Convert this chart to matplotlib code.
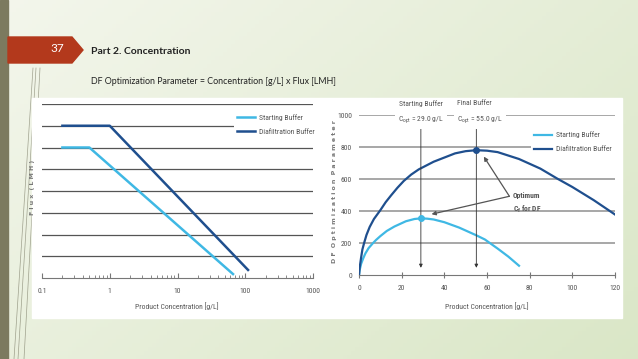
import numpy as np
import matplotlib.pyplot as plt
from matplotlib import font_manager
from matplotlib.patches import Polygon, Rectangle


def pick_font(names):
    avail = {f.name for f in font_manager.fontManager.ttflist}
    for n in names:
        if n in avail:
            return n
    return 'DejaVu Sans'


narrow = pick_font(['Liberation Sans Narrow', 'Roboto Condensed', 'Liberation Sans', 'DejaVu Sans'])
slide = pick_font(['Lato', 'Open Sans', 'DejaVu Sans'])

# left chart: flux vs concentration (log x)
flux_ticks = [0.1, 1, 10, 100, 1000]
flux_tick_labels = ['0.1', '1', '10', '100', '1000']
flux_grid = [1, 2, 3, 4, 5, 6, 7, 8]
flux_start_x = [0.2, 0.5, 66]
flux_start_y = [6, 6, 0.18]
flux_dia_x = [0.2, 1.0, 110]
flux_dia_y = [7, 7, 0.37]

# right chart: DF optimization parameter
df_ticks = [0, 20, 40, 60, 80, 100, 120]
df_yticks = [0, 200, 400, 600, 800, 1000]
df_start_x = [0, 0.3, 1, 2, 3, 4.5, 6.6, 8, 10, 13, 16.6, 22, 26, 29, 32, 35, 40,
              47, 55, 59, 65, 70, 75]
df_start_y = [0, 30, 70, 105, 135, 168, 200, 219, 243, 275, 303, 336, 350, 354, 352,
              347, 330, 296, 248, 222, 165, 115, 58]
df_dia_x = [0, 0.3, 1, 1.6, 2.4, 3.5, 5, 7, 10, 12.5, 15, 18, 21, 24.5, 28, 35, 45,
            50, 55, 60, 65, 75, 85, 93, 100, 110, 120]
df_dia_y = [0, 45, 110, 160, 200, 250, 300, 350, 405, 455, 497, 545, 588, 628, 660,
            708, 760, 774, 780, 777, 768, 725, 665, 602, 550, 468, 378]
peak_x = [29, 55]
peak_y = [354, 780]

light = '#3fb8e4'
dark = '#1f4f8e'
txt = '#555555'

fig = plt.figure(figsize=(6.38, 3.59), dpi=100)

# slide background
bg = fig.add_axes([0, 0, 1, 1])
bg.set_xlim(0, 638)
bg.set_ylim(359, 0)
bg.axis('off')
gx, gy = np.meshgrid(np.linspace(0, 1, 160), np.linspace(0, 1, 90))
t = np.clip(0.6 * gx + 0.4 * gy, 0, 1)[..., None]
c0 = np.array([0.955, 0.965, 0.925])
c1 = np.array([0.855, 0.905, 0.78])
bg.imshow(c0 * (1 - t) + c1 * t, extent=(0, 638, 359, 0), aspect='auto', zorder=0)
bg.add_patch(Rectangle((0, 0), 8, 359, color='#7c7a5f', zorder=1))
for x0, x1 in [(36, 18), (40, 24), (33, 14)]:
    bg.plot([x0, x1], [68, 359], color='#6b6b55', lw=0.5, alpha=0.6, zorder=1)
bg.add_patch(Polygon([(8, 37), (72, 37), (83, 50), (72, 63), (8, 63)],
                     color='#b3391c', zorder=2))
bg.text(57, 49, '37', color='white', fontsize=8.5, ha='center', va='center', family=slide)
bg.text(91, 51, 'Part 2. Concentration', fontsize=7.5, fontweight='bold',
        va='center', family=slide, color='#222')
bg.text(91, 81, 'DF Optimization Parameter = Concentration [g/L] x Flux [LMH]',
        fontsize=6.4, va='center', family=slide, color='#222')
bg.add_patch(Rectangle((32, 98), 590, 220, color='white', zorder=2))

# left chart
ax1 = fig.add_axes([42 / 638, 1 - 278 / 359, 271 / 638, 174 / 359])
ax1.set_facecolor('none')
ax1.set_xscale('log')
ax1.set_xlim(0.1, 1000)
ax1.set_ylim(0, 8)
for v in flux_grid:
    ax1.axhline(v, color='#555555', lw=0.9, zorder=1)
ax1.plot(flux_start_x, flux_start_y, color=light, lw=1.8, label='Starting Buffer', zorder=3)
ax1.plot(flux_dia_x, flux_dia_y, color=dark, lw=1.8, label='Diafiltration Buffer', zorder=3)
for s in ['top', 'right', 'left']:
    ax1.spines[s].set_visible(False)
ax1.spines['bottom'].set_color('#777777')
ax1.set_yticks([])
ax1.set_xticks(flux_ticks)
ax1.set_xticklabels(flux_tick_labels)
ax1.tick_params(axis='x', which='major', direction='in', length=3.5, color='#777777',
                labelsize=5.5, labelcolor=txt, pad=7)
ax1.tick_params(axis='x', which='minor', direction='in', length=2, color='#777777')
for lab in ax1.get_xticklabels():
    lab.set_family(narrow)
ax1.set_xlabel('Product Concentration [g/L]', fontsize=5.5, color=txt, family=narrow)
ax1.xaxis.set_label_coords(0.498, -0.14)
ax1.set_ylabel('F l u x  ( L M H )', fontsize=4.5, color='#777777', fontweight='bold')
ax1.yaxis.set_label_coords(-0.026, 0.52)
leg1 = ax1.legend(loc='upper left', bbox_to_anchor=(0.694, 0.98),
                  frameon=True, facecolor='white', edgecolor='none', framealpha=1,
                  handlelength=2.3, handletextpad=0.6, labelspacing=1.0,
                  borderpad=0.4, prop={'family': narrow, 'size': 5.5})
for tx in leg1.get_texts():
    tx.set_color(txt)

# right chart
ax2 = fig.add_axes([359 / 638, 1 - 275 / 359, 256 / 638, 160 / 359])
ax2.set_facecolor('none')
ax2.set_xlim(0, 120)
ax2.set_ylim(0, 1000)
for v in df_yticks[1:]:
    ax2.axhline(v, color='#8f8f8f', lw=1.1, zorder=1)
ax2.plot(df_start_x, df_start_y, color=light, lw=1.6, label='Starting Buffer', zorder=3)
ax2.plot(df_dia_x, df_dia_y, color=dark, lw=1.6, label='Diafiltration Buffer', zorder=3)
ax2.plot(peak_x[:1], peak_y[:1], 'o', color=light, ms=4, zorder=4)
ax2.plot(peak_x[1:], peak_y[1:], 'o', color=dark, ms=4, zorder=4)
for s in ['top', 'right', 'left']:
    ax2.spines[s].set_visible(False)
ax2.spines['bottom'].set_color('#777777')
ax2.set_xticks(df_ticks)
ax2.set_yticks(df_yticks)
ax2.tick_params(axis='x', direction='inout', length=4, color='#777777',
                labelsize=5.5, labelcolor=txt, pad=5)
ax2.tick_params(axis='y', length=0, labelsize=5.5, labelcolor=txt, pad=5)
for lab in ax2.get_xticklabels() + ax2.get_yticklabels():
    lab.set_family(narrow)
ax2.set_xlabel('Product Concentration [g/L]', fontsize=5.5, color=txt, family=narrow)
ax2.xaxis.set_label_coords(0.5, -0.17)
ax2.set_ylabel('D F  O p t i m i z a t i o n  P a r a m e t e r', fontsize=4.5,
               color='#777777', fontweight='bold')
ax2.yaxis.set_label_coords(-0.086, 0.52)
leg2 = ax2.legend(loc='upper left', bbox_to_anchor=(0.658, 0.94),
                  frameon=True, facecolor='white', edgecolor='none', framealpha=1,
                  handlelength=2.3, handletextpad=0.6, labelspacing=1.0,
                  borderpad=0.4, prop={'family': narrow, 'size': 5.5})
for tx in leg2.get_texts():
    tx.set_color(txt)

# optimum markers and labels
box = dict(facecolor='white', edgecolor='none', pad=2.5)
ax2.text(29, 1073, 'Starting Buffer', ha='center', va='center', fontsize=5.5,
         color=txt, family=narrow, clip_on=False)
ax2.text(29, 969, r'$\mathregular{C_{opt}}$ = 29.0 g/L', ha='center', va='center',
         fontsize=5.5, color=txt, family=narrow, bbox=box, zorder=5)
ax2.text(46, 1073, 'Final Buffer', ha='left', va='center', fontsize=5.5,
         color=txt, family=narrow, clip_on=False)
ax2.text(46, 969, r'$\mathregular{C_{opt}}$ = 55.0 g/L', ha='left', va='center',
         fontsize=5.5, color=txt, family=narrow, bbox=box, zorder=5)
for px in peak_x:
    ax2.annotate('', xy=(px, 45), xytext=(px, 925),
                 arrowprops=dict(arrowstyle='-|>', color='#333333', lw=0.6,
                                 mutation_scale=5, shrinkA=0, shrinkB=0))
ax2.annotate('', xy=(58.5, 740), xytext=(70.5, 492),
             arrowprops=dict(arrowstyle='-|>', color='#555555', lw=0.9,
                             mutation_scale=6, shrinkA=0, shrinkB=0))
ax2.annotate('', xy=(34, 380), xytext=(70.5, 492),
             arrowprops=dict(arrowstyle='-|>', color='#555555', lw=0.9,
                             mutation_scale=6, shrinkA=0, shrinkB=0))
ax2.text(72, 495, 'Optimum', fontsize=5.5, fontweight='bold', color=txt,
         va='center', family=narrow)
ax2.text(72, 412, r'$\mathregular{C_f}$ for DF', fontsize=5.5, fontweight='bold',
         color=txt, va='center', family=narrow)

fig.savefig('out.png', dpi=100)
